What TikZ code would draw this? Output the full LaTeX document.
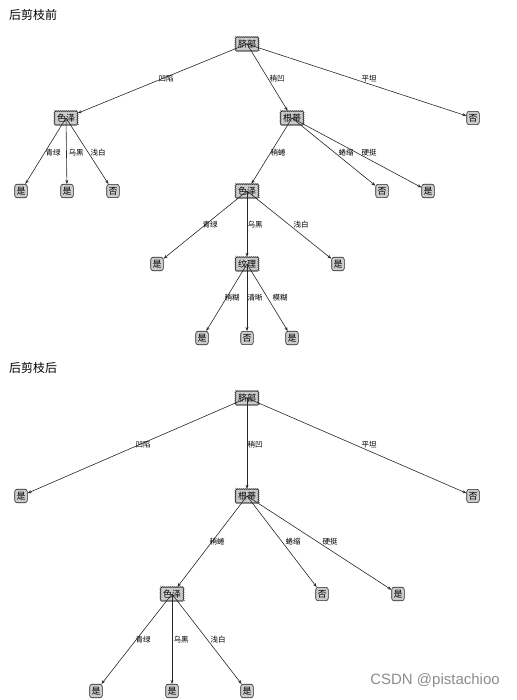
\documentclass[tikz,border=0pt]{standalone}
\usepackage{fontspec}
\setmainfont{Noto Sans CJK SC}
\newfontfamily\wm{Liberation Sans}
\usetikzlibrary{arrows.meta,decorations.pathmorphing}
\tikzset{
  dec/.style={draw=black!85, fill=black!20, line width=0.5pt, inner xsep=2.5pt, inner ysep=2.8pt,
    decorate, decoration={zigzag, segment length=2pt, amplitude=0.6pt},
    font=\fontsize{9}{9}\selectfont},
  leaf/.style={draw=black!85, fill=black!20, line width=0.6pt, rounded corners=2.5pt,
    inner xsep=1.8pt, inner ysep=2.8pt, font=\fontsize{9}{9}\selectfont},
  arr/.style={-{Stealth[length=4pt,width=3pt]}, draw=black!85, line width=0.6pt},
  elab/.style={font=\fontsize{7.5}{8}\selectfont, inner sep=0pt},
  ttl/.style={font=\fontsize{12}{12}\selectfont, anchor=west, inner sep=0pt}
}
\begin{document}
\begin{tikzpicture}[x=1pt,y=-1pt]
\useasboundingbox (0,0) rectangle (516,700);
% ===== top tree =====
\node[ttl] (t1) at (9,15) {后剪枝前};
\node[dec] (a) at (247,44) {脐部};
\node[dec] (a1) at (66,118) {色泽};
\node[dec] (a2) at (292,118) {根蒂};
\node[leaf] (a3) at (473,118) {否};
\node[leaf] (a11) at (21,191) {是};
\node[leaf] (a12) at (67,191) {是};
\node[leaf] (a13) at (113,191) {否};
\node[dec] (a21) at (247,191) {色泽};
\node[leaf] (a22) at (382,191) {否};
\node[leaf] (a23) at (428,191) {是};
\node[leaf] (a211) at (157,264) {是};
\node[dec] (a212) at (247,264) {纹理};
\node[leaf] (a213) at (338,264) {是};
\node[leaf] (a2121) at (202,338) {是};
\node[leaf] (a2122) at (247,338) {否};
\node[leaf] (a2123) at (292,338) {是};
\draw[arr] (a.center) -- (a1);
\draw[arr] (a.center) -- (a2);
\draw[arr] (a.center) -- (a3);
\draw[arr] (a1.center) -- (a11);
\draw[arr] (a1.center) -- (a12);
\draw[arr] (a1.center) -- (a13);
\draw[arr] (a2.center) -- (a21);
\draw[arr] (a2.center) -- (a22);
\draw[arr] (a2.center) -- (a23);
\draw[arr] (a21.center) -- (a211);
\draw[arr] (a21.center) -- (a212);
\draw[arr] (a21.center) -- (a213);
\draw[arr] (a212.center) -- (a2121);
\draw[arr] (a212.center) -- (a2122);
\draw[arr] (a212.center) -- (a2123);
\node[elab] (la1) at (166,79) {凹陷};
\node[elab] (la2) at (277,79) {稍凹};
\node[elab] (la3) at (369,79) {平坦};
\node[elab] (la11) at (53,153) {青绿};
\node[elab] (la12) at (76,153) {乌黑};
\node[elab] (la13) at (98,153) {浅白};
\node[elab] (la21) at (278,153) {稍蜷};
\node[elab] (la22) at (346,153) {蜷缩};
\node[elab] (la23) at (369,153) {硬挺};
\node[elab] (la211) at (210,225) {青绿};
\node[elab] (la212) at (255,225) {乌黑};
\node[elab] (la213) at (301,225) {浅白};
\node[elab] (la2121) at (232,298) {稍糊};
\node[elab] (la2122) at (255,298) {清晰};
\node[elab] (la2123) at (280,298) {模糊};
% ===== bottom tree =====
\node[ttl] (t2) at (9,368) {后剪枝后};
\node[dec] (b) at (247,398) {脐部};
\node[leaf] (b1) at (21,496) {是};
\node[dec] (b2) at (247,496) {根蒂};
\node[leaf] (b3) at (473,496) {否};
\node[dec] (b21) at (172,594) {色泽};
\node[leaf] (b22) at (322,594) {否};
\node[leaf] (b23) at (398,594) {是};
\node[leaf] (b211) at (96,691) {是};
\node[leaf] (b212) at (172,691) {是};
\node[leaf] (b213) at (247,691) {是};
\draw[arr] (b.center) -- (b1);
\draw[arr] (b.center) -- (b2);
\draw[arr] (b.center) -- (b3);
\draw[arr] (b2.center) -- (b21);
\draw[arr] (b2.center) -- (b22);
\draw[arr] (b2.center) -- (b23);
\draw[arr] (b21.center) -- (b211);
\draw[arr] (b21.center) -- (b212);
\draw[arr] (b21.center) -- (b213);
\node[elab] (lb1) at (143,445) {凹陷};
\node[elab] (lb2) at (255,445) {稍凹};
\node[elab] (lb3) at (369,445) {平坦};
\node[elab] (lb21) at (217,542) {稍蜷};
\node[elab] (lb22) at (293,542) {蜷缩};
\node[elab] (lb23) at (330,542) {硬挺};
\node[elab] (lb211) at (143,640) {青绿};
\node[elab] (lb212) at (181,640) {乌黑};
\node[elab] (lb213) at (218,640) {浅白};
\node[font=\wm\fontsize{15}{16}\selectfont, text=black!45, inner sep=0pt] (wmk) at (435,681) {CSDN @pistachioo};
\end{tikzpicture}
\end{document}
